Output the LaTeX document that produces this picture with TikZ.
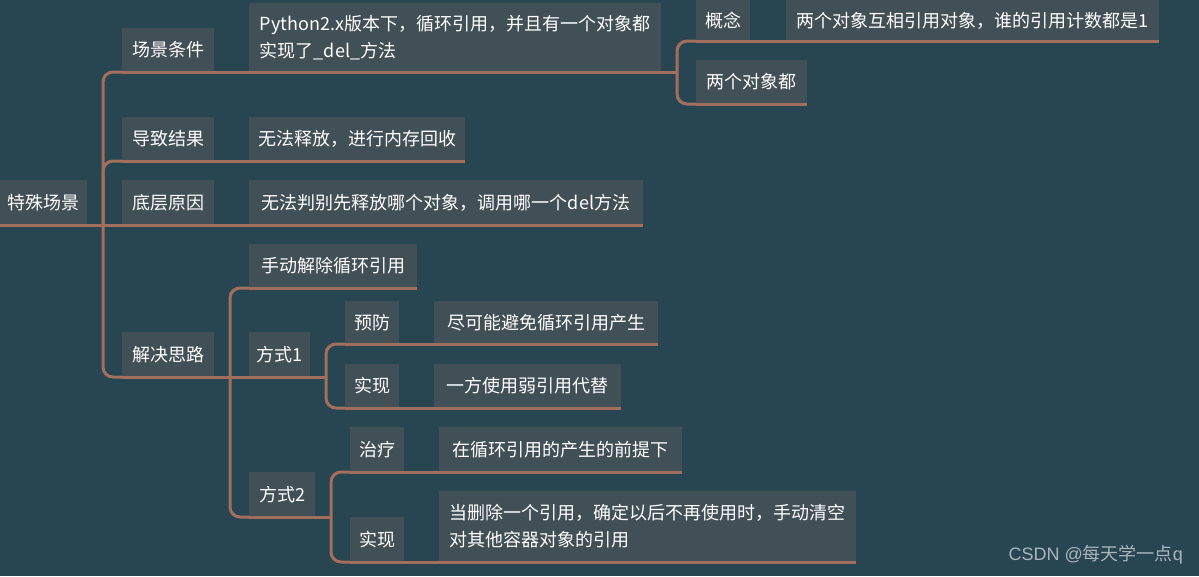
\documentclass[tikz,border=0pt]{standalone}
\usepackage{fontspec}
\setmainfont{Noto Sans CJK SC}
\newfontfamily\wmlatin{Liberation Sans}
\definecolor{bg}{RGB}{39,70,82}
\definecolor{boxc}{RGB}{65,79,86}
\definecolor{linec}{RGB}{163,111,92}
\definecolor{wmc}{RGB}{170,180,186}
\begin{document}
\begin{tikzpicture}[x=1pt,y=-1pt,
  box/.style={fill=boxc, text=white, anchor=north west, inner xsep=0pt, inner ysep=0pt, outer sep=0pt,
    font=\fontsize{18}{27}\selectfont, align=left},
  conn/.style={draw=linec, line width=3pt},
  rconn/.style={conn, rounded corners=10pt},
  wm/.style={text=wmc, font=\fontsize{18}{22}\selectfont, anchor=east, inner sep=0pt}]
\fill[bg] (0,0) rectangle (1199,576);
\useasboundingbox (0,0) rectangle (1199,576);

% nodes
\node[box, minimum width=87, minimum height=45] (root) at (0,180) {特殊场景};
\node[box, minimum width=92, minimum height=44] (c1) at (122,28) {场景条件};
\node[box, minimum width=92, minimum height=44] (c2) at (122,117) {导致结果};
\node[box, minimum width=92, minimum height=45] (c3) at (122,180) {底层原因};
\node[box, minimum width=92, minimum height=45] (c4) at (122,332) {解决思路};

\node[box, minimum width=412, minimum height=69] (py) at (249,3) {Python2.x版本下，循环引用，并且有一个对象都\\实现了\_del\_方法};
\node[box, minimum width=54, minimum height=41] (g1) at (696,0) {概念};
\node[box, minimum width=373, minimum height=41] (g1c) at (786,0) {两个对象互相引用对象，谁的引用计数都是1};
\node[box, minimum width=111, minimum height=44] (g2) at (696,60) {两个对象都};

\node[box, minimum width=216, minimum height=44] (r2) at (249,117) {无法释放，进行内存回收};
\node[box, minimum width=394, minimum height=45] (r3) at (249,180) {无法判别先释放哪个对象，调用哪一个del方法};

\node[box, minimum width=168, minimum height=44] (s1) at (249,244) {手动解除循环引用};
\node[box, minimum width=61, minimum height=45] (s2) at (249,332) {方式1};
\node[box, minimum width=66, minimum height=45] (s3) at (249,472) {方式2};

\node[box, minimum width=54, minimum height=43] (p1) at (345,301) {预防};
\node[box, minimum width=224, minimum height=43] (p1c) at (434,301) {尽可能避免循环引用产生};
\node[box, minimum width=54, minimum height=44] (p2) at (345,364) {实现};
\node[box, minimum width=187, minimum height=44] (p2c) at (434,364) {一方使用弱引用代替};

\node[box, minimum width=54, minimum height=45] (q1) at (350,427) {治疗};
\node[box, minimum width=243, minimum height=45] (q1c) at (439,427) {在循环引用的产生的前提下};
\node[box, minimum width=54, minimum height=45] (q2) at (350,517) {实现};
\node[box, minimum width=417, minimum height=71] (q2c) at (439,491) {当删除一个引用，确定以后不再使用时，手动清空\\对其他容器对象的引用};

% underlines
\foreach \n in {root,c1,c2,c3,c4,py,g1,g1c,g2,r2,r3,s1,s2,s3,p1,p1c,p2,p2c,q1,q1c,q2,q2c}
  \draw[conn] (\n.south west) -- (\n.south east);

% trunk points
\coordinate (t0) at (103,225);
\coordinate (tpy) at (677,72);
\coordinate (t4) at (230,377);
\coordinate (t5) at (326,377);
\coordinate (t6) at (331,517);

% connectors
\draw[conn] (root.south east) -- (t0);
\draw[rconn] (t0) |- (c1.south west);
\draw[rconn] (t0) |- (c2.south west);
\draw[conn] (t0) -- (c3.south west);
\draw[rconn] (t0) |- (c4.south west);

\draw[conn] (c1.south east) -- (py.south west);
\draw[conn] (py.south east) -- (tpy);
\draw[rconn] (tpy) |- (g1.south west);
\draw[rconn] (tpy) |- (g2.south west);
\draw[conn] (g1.south east) -- (g1c.south west);

\draw[conn] (c2.south east) -- (r2.south west);
\draw[conn] (c3.south east) -- (r3.south west);

\draw[conn] (c4.south east) -- (t4);
\draw[rconn] (t4) |- (s1.south west);
\draw[conn] (t4) -- (s2.south west);
\draw[rconn] (t4) |- (s3.south west);

\draw[conn] (s2.south east) -- (t5);
\draw[rconn] (t5) |- (p1.south west);
\draw[rconn] (t5) |- (p2.south west);
\draw[conn] (p1.south east) -- (p1c.south west);
\draw[conn] (p2.south east) -- (p2c.south west);

\draw[conn] (s3.south east) -- (t6);
\draw[rconn] (t6) |- (q1.south west);
\draw[rconn] (t6) |- (q2.south west);
\draw[conn] (q1.south east) -- (q1c.south west);
\draw[conn] (q2.south east) -- (q2c.south west);

\node[wm] (wm) at (1183,555) {{\wmlatin CSDN @}每天学一点{\wmlatin q}};
\end{tikzpicture}
\end{document}
